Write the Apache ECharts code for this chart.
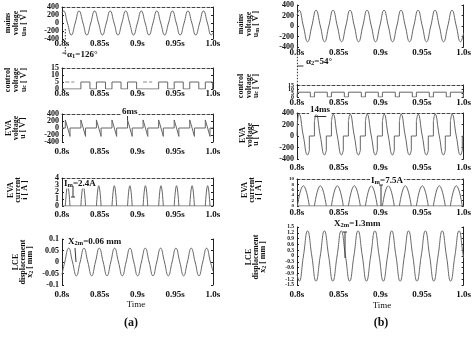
<!DOCTYPE html>
<html><head><meta charset="utf-8">
<script src="https://cdn.jsdelivr.net/npm/echarts@6/dist/echarts.min.js"></script>
<style>html,body{margin:0;padding:0;background:#fff}#c{width:474px;height:349px}</style>
</head><body><div id="c"></div>
<script>
// ---------------- DATA ----------------
const xTickLabels = ['0.8s','0.85s','0.9s','0.95s','1.0s'];
const yTicksVolt = ['400','200','0','-200','-400'];
const yTicksCtrl = ['15','10','5','0'];
const yTicksCurA = ['4','3','2','1','0'];
const yTicksLceA = ['0.1','0.05','0','-0.05','-0.1'];
const yTicksCurB = ['10','8','6','4','2','0'];
const yTicksLceB = ['1.5','1.2','0.9','0.6','0.3','0','-0.3','-0.6','-0.9','-1.2','-1.5'];
const G = '-'; // gap marker

// (a) alpha1 = 126 deg
const mainsA = [[0.8,250],[0.802,300],[0.8072,0],[0.8123,-300],[0.8175,0],[0.8226,300],[0.8278,0],[0.8329,-300],[0.8381,0],[0.8432,300],[0.8484,0],[0.8535,-300],[0.8587,0],[0.8638,300],[0.869,0],[0.8741,-300],[0.8793,0],[0.8844,300],[0.8896,0],[0.8947,-300],[0.8999,0],[0.905,300],[0.9102,0],[0.9153,-300],[0.9205,0],[0.9256,300],[0.9308,0],[0.9359,-300],[0.9411,0],[0.9462,300],[0.9514,0],[0.9565,-300],[0.9617,0],[0.9668,300],[0.972,0],[0.9771,-300],[0.9823,0],[0.9874,300],[0.9926,0],[0.9977,-300],[1.0,-250]];
const ctrlA = [[0.8,0],[0.825,0],[0.825,5],[0.837,5],[0.837,0],[0.8456,0],[0.8456,5],[0.8576,5],[0.8576,0],[0.8662,0],[0.8662,5],[0.8782,5],[0.8782,0],[0.8868,0],[0.8868,5],[0.8988,5],[0.8988,0],[0.928,0],[0.928,5],[0.94,5],[0.94,0],[0.9486,0],[0.9486,5],[0.9606,5],[0.9606,0],[0.9692,0],[0.9692,5],[0.9812,5],[0.9812,0],[0.9898,0],[0.9898,5],[0.9995,5],[0.9995,0],[1.0,0]];
const ctrlAFaint = [[0.8044,5],[0.8164,5],[0.8164,G],[0.9074,5],[0.9194,5]];
const evaA = [[0.8,0],[0.8044,0],[0.8044,230],[0.8075,0],[0.8106,-240],[0.8106,0],[0.825,0],[0.825,230],[0.8281,0],[0.8312,-240],[0.8312,0],[0.8456,0],[0.8456,230],[0.8487,0],[0.8518,-240],[0.8518,0],[0.8662,0],[0.8662,230],[0.8693,0],[0.8724,-240],[0.8724,0],[0.8868,0],[0.8868,230],[0.8899,0],[0.893,-240],[0.893,0],[0.9074,0],[0.9074,230],[0.9105,0],[0.9136,-240],[0.9136,0],[0.928,0],[0.928,230],[0.9311,0],[0.9342,-240],[0.9342,0],[0.9486,0],[0.9486,230],[0.9517,0],[0.9548,-240],[0.9548,0],[0.9692,0],[0.9692,230],[0.9723,0],[0.9754,-240],[0.9754,0],[0.9898,0],[0.9898,230],[0.9929,0],[0.996,-240],[0.996,0],[1.0,0]];
const curAHumps = [[0.8044,0],[0.8075,2.9],[0.8106,0],[0.81,G],[0.825,0],[0.8281,2.9],[0.8312,0],[0.83,G],[0.8456,0],[0.8487,2.9],[0.8518,0],[0.85,G],[0.8662,0],[0.8693,2.9],[0.8724,0],[0.87,G],[0.8868,0],[0.8899,2.9],[0.893,0],[0.89,G],[0.9074,0],[0.9105,2.9],[0.9136,0],[0.91,G],[0.928,0],[0.9311,2.9],[0.9342,0],[0.93,G],[0.9486,0],[0.9517,2.9],[0.9548,0],[0.95,G],[0.9692,0],[0.9723,2.9],[0.9754,0],[0.97,G],[0.9898,0],[0.9929,2.9],[0.996,0]];
const curABase = [[0.8,0],[1.0,0]];
const lceA = [[0.8,-0.054],[0.8037,0],[0.8088,0.06],[0.8139,0],[0.819,-0.06],[0.824,0],[0.8291,0.06],[0.8342,0],[0.8393,-0.06],[0.8443,0],[0.8494,0.06],[0.8545,0],[0.8596,-0.06],[0.8646,0],[0.8697,0.06],[0.8748,0],[0.8799,-0.06],[0.8849,0],[0.89,0.06],[0.8951,0],[0.9002,-0.06],[0.9052,0],[0.9103,0.06],[0.9154,0],[0.9205,-0.06],[0.9255,0],[0.9306,0.06],[0.9357,0],[0.9408,-0.06],[0.9458,0],[0.9509,0.06],[0.956,0],[0.9611,-0.06],[0.9661,0],[0.9712,0.06],[0.9763,0],[0.9814,-0.06],[0.9864,0],[0.9915,0.06],[0.9966,0],[1.0,-0.04]];

// (b) alpha2 = 54 deg
const mainsB = [[0.8,210],[0.8025,300],[0.8076,0],[0.8127,-300],[0.8178,0],[0.8229,300],[0.828,0],[0.8331,-300],[0.8382,0],[0.8433,300],[0.8484,0],[0.8535,-300],[0.8586,0],[0.8637,300],[0.8688,0],[0.8739,-300],[0.879,0],[0.8841,300],[0.8892,0],[0.8943,-300],[0.8994,0],[0.9045,300],[0.9096,0],[0.9147,-300],[0.9198,0],[0.9249,300],[0.93,0],[0.9351,-300],[0.9402,0],[0.9453,300],[0.9504,0],[0.9555,-300],[0.9606,0],[0.9657,300],[0.9708,0],[0.9759,-300],[0.981,0],[0.9861,300],[0.9912,0],[0.9963,-300],[1.0,-130]];
const ctrlB = [[0.8,0],[0.8005,0],[0.8005,6],[0.816,6],[0.816,0],[0.8209,0],[0.8209,6],[0.8364,6],[0.8364,0],[0.8413,0],[0.8413,6],[0.8568,6],[0.8568,0],[0.8617,0],[0.8617,6],[0.8772,6],[0.8772,0],[0.8821,0],[0.8821,6],[0.8976,6],[0.8976,0],[0.9025,0],[0.9025,6],[0.918,6],[0.918,0],[0.9229,0],[0.9229,6],[0.9384,6],[0.9384,0],[0.9433,0],[0.9433,6],[0.9588,6],[0.9588,0],[0.9637,0],[0.9637,6],[0.9792,6],[0.9792,0],[0.9841,0],[0.9841,6],[0.9996,6],[0.9996,0],[1.0,0]];
const evaBCurve = [[0.8005,250],[0.8025,380],[0.8076,0],[0.8127,-330],[0.8148,-250],[0.815,G],[0.8209,250],[0.8229,380],[0.828,0],[0.8331,-330],[0.8352,-250],[0.836,G],[0.8413,250],[0.8433,380],[0.8484,0],[0.8535,-330],[0.8556,-250],[0.856,G],[0.8617,250],[0.8637,380],[0.8688,0],[0.8739,-330],[0.876,-250],[0.877,G],[0.8821,250],[0.8841,380],[0.8892,0],[0.8943,-330],[0.8964,-250],[0.897,G],[0.9025,250],[0.9045,380],[0.9096,0],[0.9147,-330],[0.9168,-250],[0.917,G],[0.9229,250],[0.9249,380],[0.93,0],[0.9351,-330],[0.9372,-250],[0.938,G],[0.9433,250],[0.9453,380],[0.9504,0],[0.9555,-330],[0.9576,-250],[0.958,G],[0.9637,250],[0.9657,380],[0.9708,0],[0.9759,-330],[0.978,-250],[0.979,G],[0.9841,250],[0.9861,380],[0.9912,0],[0.9963,-330],[0.9984,-250]];
const evaBStep = [[0.8,0],[0.8005,0],[0.8005,250],[0.801,G],[0.8148,-250],[0.8148,0],[0.8209,0],[0.8209,250],[0.822,G],[0.8352,-250],[0.8352,0],[0.8413,0],[0.8413,250],[0.842,G],[0.8556,-250],[0.8556,0],[0.8617,0],[0.8617,250],[0.862,G],[0.876,-250],[0.876,0],[0.8821,0],[0.8821,250],[0.883,G],[0.8964,-250],[0.8964,0],[0.9025,0],[0.9025,250],[0.903,G],[0.9168,-250],[0.9168,0],[0.9229,0],[0.9229,250],[0.923,G],[0.9372,-250],[0.9372,0],[0.9433,0],[0.9433,250],[0.944,G],[0.9576,-250],[0.9576,0],[0.9637,0],[0.9637,250],[0.964,G],[0.978,-250],[0.978,0],[0.9841,0],[0.9841,250],[0.985,G],[0.9984,-250],[0.9984,0],[1.0,0]];
const curBHumps = [[0.8005,0],[0.8076,7.5],[0.8148,0],[0.815,G],[0.8209,0],[0.828,7.5],[0.8352,0],[0.836,G],[0.8413,0],[0.8484,7.5],[0.8556,0],[0.856,G],[0.8617,0],[0.8688,7.5],[0.876,0],[0.877,G],[0.8821,0],[0.8892,7.5],[0.8964,0],[0.897,G],[0.9025,0],[0.9096,7.5],[0.9168,0],[0.917,G],[0.9229,0],[0.93,7.5],[0.9372,0],[0.938,G],[0.9433,0],[0.9504,7.5],[0.9576,0],[0.958,G],[0.9637,0],[0.9708,7.5],[0.978,0],[0.979,G],[0.9841,0],[0.9912,7.5],[0.9984,0]];
const curBBase = [[0.8,0],[1.0,0]];
const lceB = [[0.8,-0.95],[0.8026,-1.3],[0.8077,0],[0.8127,1.3],[0.8178,0],[0.8228,-1.3],[0.8279,0],[0.8329,1.3],[0.838,0],[0.843,-1.3],[0.8481,0],[0.8531,1.3],[0.8582,0],[0.8632,-1.3],[0.8683,0],[0.8733,1.3],[0.8784,0],[0.8834,-1.3],[0.8885,0],[0.8935,1.3],[0.8986,0],[0.9036,-1.3],[0.9087,0],[0.9137,1.3],[0.9188,0],[0.9238,-1.3],[0.9289,0],[0.9339,1.3],[0.939,0],[0.944,-1.3],[0.9491,0],[0.9541,1.3],[0.9592,0],[0.9642,-1.3],[0.9693,0],[0.9743,1.3],[0.9794,0],[0.9844,-1.3],[0.9895,0],[0.9945,1.3],[0.9996,0],[1.0,-0.1]];

// ---------------- LAYOUT ----------------
const F = '"Liberation Serif","Times New Roman",serif';
const LC = '#666';
const panels = [
  {left:62, width:151, top:7,   height:32, min:-400, max:400, iv:200, dash:true,  xm:0,   yf:8, ticks:yTicksVolt, series:[{d:mainsA, s:true}]},
  {left:62, width:151, top:68,  height:21, min:0,    max:15,  iv:5,   dash:true,  xm:0,   yf:8, ticks:yTicksCtrl, series:[{d:ctrlA},{d:ctrlAFaint, faint:true}]},
  {left:62, width:151, top:114, height:28, min:-400, max:400, iv:200, dash:true,  xm:5,   yf:8, ticks:yTicksVolt, series:[{d:evaA}]},
  {left:62, width:151, top:178, height:28, min:0,    max:4,   iv:1,   dash:true,  xm:4.5, yf:8, ticks:yTicksCurA, series:[{d:curABase},{d:curAHumps, s:true}]},
  {left:62, width:151, top:239, height:46, min:-0.1, max:0.1, iv:0.05,dash:false, xm:5.5, yf:8, ticks:yTicksLceA, series:[{d:lceA, s:true}]},
  {left:297,width:167, top:5,   height:42, min:-400, max:400, iv:200, dash:false, xm:1.5, yf:8, ticks:yTicksVolt, series:[{d:mainsB, s:true}]},
  {left:297,width:167, top:85,  height:12, min:0,    max:15,  iv:5,   dash:true,  xm:1.5, yf:6, ticks:yTicksCtrl, series:[{d:ctrlB}]},
  {left:297,width:167, top:113, height:46, min:-400, max:400, iv:200, dash:true,  xm:4.5, yf:8, ticks:yTicksVolt, series:[{d:evaBStep},{d:evaBCurve, s:true}]},
  {left:297,width:167, top:179, height:27, min:0,    max:10,  iv:2,   dash:true,  xm:2,   yf:5, ticks:yTicksCurB, series:[{d:curBBase},{d:curBHumps, s:true}]},
  {left:297,width:167, top:227, height:58, min:-1.5, max:1.5, iv:0.3, dash:false, xm:5.5, yf:5.5, ticks:yTicksLceB, series:[{d:lceB, s:true}]}
];

const grid=[], xAxis=[], yAxis=[], series=[];
panels.forEach((p,i)=>{
  grid.push({left:p.left, top:p.top, width:p.width, height:p.height});
  xAxis.push({gridIndex:i, type:'value', min:0.8, max:1.0, interval:0.05, position:'bottom',
    axisLine:{show:false}, axisTick:{show:false}, splitLine:{show:false},
    axisLabel:{margin:p.xm, fontFamily:F, fontWeight:'bold', fontSize:9, color:'#111',
      showMinLabel:true, showMaxLabel:true, hideOverlap:false,
      formatter:v=>xTickLabels[Math.round((v-0.8)/0.05)]}});
  xAxis.push({gridIndex:i, type:'value', min:0.8, max:1.0, position:'top',
    axisLine:{show:p.dash, onZero:false, lineStyle:{type:[3,2], color:'#444', width:1}},
    axisTick:{show:false}, axisLabel:{show:false}, splitLine:{show:false}});
  [ 'left','right' ].forEach(pos=>{
    yAxis.push({gridIndex:i, type:'value', min:p.min, max:p.max, interval:p.iv, position:pos,
      axisLine:{show:true, onZero:false, lineStyle:{color:'#222', width:1}},
      axisTick:{show:true, inside:true, length:2, lineStyle:{color:'#222'}},
      axisLabel:{show:false}, splitLine:{show:false}});
  });
  p.series.forEach(s=>{
    series.push({type:'line', xAxisIndex:2*i, yAxisIndex:2*i, data:s.d, smooth:s.s?0.5:false,
      symbol:'none', connectNulls:false, clip:true,
      lineStyle:{color:s.faint?'#888':LC, width:1, type:s.faint?[4,2]:'solid'}});
  });
});

const chart = echarts.init(document.getElementById('c'), null, {renderer:'canvas'});
chart.setOption({animation:false, backgroundColor:'#fff', grid, xAxis, yAxis, series});

// ---------------- ANNOTATIONS ----------------
const rich = {
  b:{fontFamily:F, fontWeight:'bold', fontSize:8, fill:'#111'},
  s:{fontFamily:F, fontWeight:'bold', fontSize:6, fill:'#111', verticalAlign:'bottom'},
  n:{fontFamily:F, fontWeight:'bold', fontSize:9, fill:'#111'},
  ns:{fontFamily:F, fontWeight:'bold', fontSize:6.5, fill:'#111', verticalAlign:'bottom'}
};
function vt(x,y,text){ return {type:'text', x, y, rotation:Math.PI/2, silent:true,
  style:{text, rich, font:'bold 8px '+F, fill:'#111', align:'center', verticalAlign:'middle'}}; }
function ht(x,y,text,align,bg){ return {type:'text', x, y, silent:true, z:10,
  style:{text, rich, font:'bold 9px '+F, fill:'#111', align:align||'left', verticalAlign:'middle',
    backgroundColor:bg?'#fff':null, padding:bg?[0,1]:0}}; }
function ln(x1,y1,x2,y2,dash){ return {type:'line', silent:true, z:10,
  shape:{x1,y1,x2,y2}, style:{stroke:'#333', lineWidth:1, lineDash:dash?[1.5,1.5]:null}}; }
const P = (i,t,v)=>chart.convertToPixel({xAxisIndex:2*i, yAxisIndex:2*i},[t,v]);

const gr = [];
// y tick labels placed through the axis scale
panels.forEach((p,i)=>{
  p.ticks.forEach(lbl=>{
    const pt = P(i, 0.8, parseFloat(lbl));
    gr.push({type:'text', x:pt[0]-3, y:pt[1], silent:true,
      style:{text:lbl, font:'bold '+p.yf+'px '+F, fill:'#111', align:'right', verticalAlign:'middle'}});
  });
});

const titles = [
  [23, [7.5,'{b|mains}'],[15.5,'{b|voltage}'],[23.5,'{b|u}{s|m}{b| [ V ]}']],
  [80, [7.5,'{b|control}'],[15.5,'{b|voltage}'],[23.5,'{b|u}{s|c}{b| [ V ]}']],
  [128,[9,'{b|EVA}'],[16,'{b|voltage}'],[23,'{b|u [ V ]}']],
  [190,[11,'{b|EVA}'],[18,'{b|current}'],[25,'{b|i [ A ]}']],
  [262,[16,'{b|LCE}'],[23,'{b|displacement}'],[30,'{b|x}{s|2}{b| [ mm ]}']],
  [24, [241,'{b|mains}'],[248.5,'{b|voltage}'],[256,'{b|u}{s|m}{b| [ V ]}']],
  [86, [241,'{b|control}'],[248.5,'{b|voltage}'],[255.5,'{b|u}{s|c}{b| [ V ]}']],
  [135,[243,'{b|EVA}'],[250,'{b|voltage}'],[256,'{b|u [ V ]}']],
  [190,[245,'{b|EVA}'],[252,'{b|current}'],[259,'{b|i [ A ]}']],
  [257,[249,'{b|LCE}'],[256,'{b|displacement}'],[263,'{b|x}{s|2}{b| [ mm ]}']]
];
titles.forEach(t=>{ for(let k=1;k<t.length;k++) gr.push(vt(t[k][0], t[0], t[k][1])); });

// alpha1
const xa1 = P(0,0.8044,0)[0];
gr.push(ln(xa1, P(0,0.8044,-150)[1], xa1, 56, true));
gr.push(ln(xa1-3, 53, xa1+1, 53));
gr.push(ht(67,55,'{n|α}{ns|1}{n|=126°}'));
// alpha2
const xa2 = P(5,0.8005,0)[0];
gr.push(ln(xa2, P(5,0.8005,100)[1], xa2, P(6,0.8005,15)[1], true));
gr.push(ln(xa2, 66, xa2+6, 66));
gr.push(ht(306,62,'{n|α}{ns|2}{n|=54°}'));
// 6ms
gr.push(ht(P(2,0.8899,0)[0],112,'{n|6ms}','center',true));
gr.push(ln(P(2,0.8868,0)[0],116,P(2,0.8868,0)[0],120));
// 14ms
gr.push(ht(320,110,'{n|14ms}','center',true));
gr.push(ln(P(7,0.8209,0)[0],116.5,P(7,0.8352,0)[0],116.5));
// I_m
gr.push(ht(63,184,'{n|I}{ns|m}{n|=2.4A}','left',true));
gr.push(ln(73,186,73,197)); gr.push(ln(71,197,75,197));
gr.push(ht(387,181,'{n|I}{ns|m}{n|=7.5A}','center',true));
gr.push(ln(381,185,381,206)); gr.push(ln(379,185,383,185));
// X_2m
gr.push(ht(68,242,'{n|X}{ns|2m}{n|=0.06 mm}'));
gr.push(ln(75,248,76,262));
gr.push(ht(334,224,'{n|X}{ns|2m}{n|=1.3mm}'));
gr.push(ln(345,232,345,258)); gr.push(ln(343,232,347,232));
// Time & captions
gr.push({type:'text', x:136, y:305, style:{text:'Time', font:'9px '+F, fill:'#111', align:'center', verticalAlign:'middle'}});
gr.push({type:'text', x:382, y:306, style:{text:'Time', font:'9px '+F, fill:'#111', align:'center', verticalAlign:'middle'}});
gr.push({type:'text', x:131, y:323, style:{text:'(a)', font:'bold 12px '+F, fill:'#111', align:'center', verticalAlign:'middle'}});
gr.push({type:'text', x:381, y:323, style:{text:'(b)', font:'bold 12px '+F, fill:'#111', align:'center', verticalAlign:'middle'}});
chart.setOption({graphic: gr});
</script></body></html>
